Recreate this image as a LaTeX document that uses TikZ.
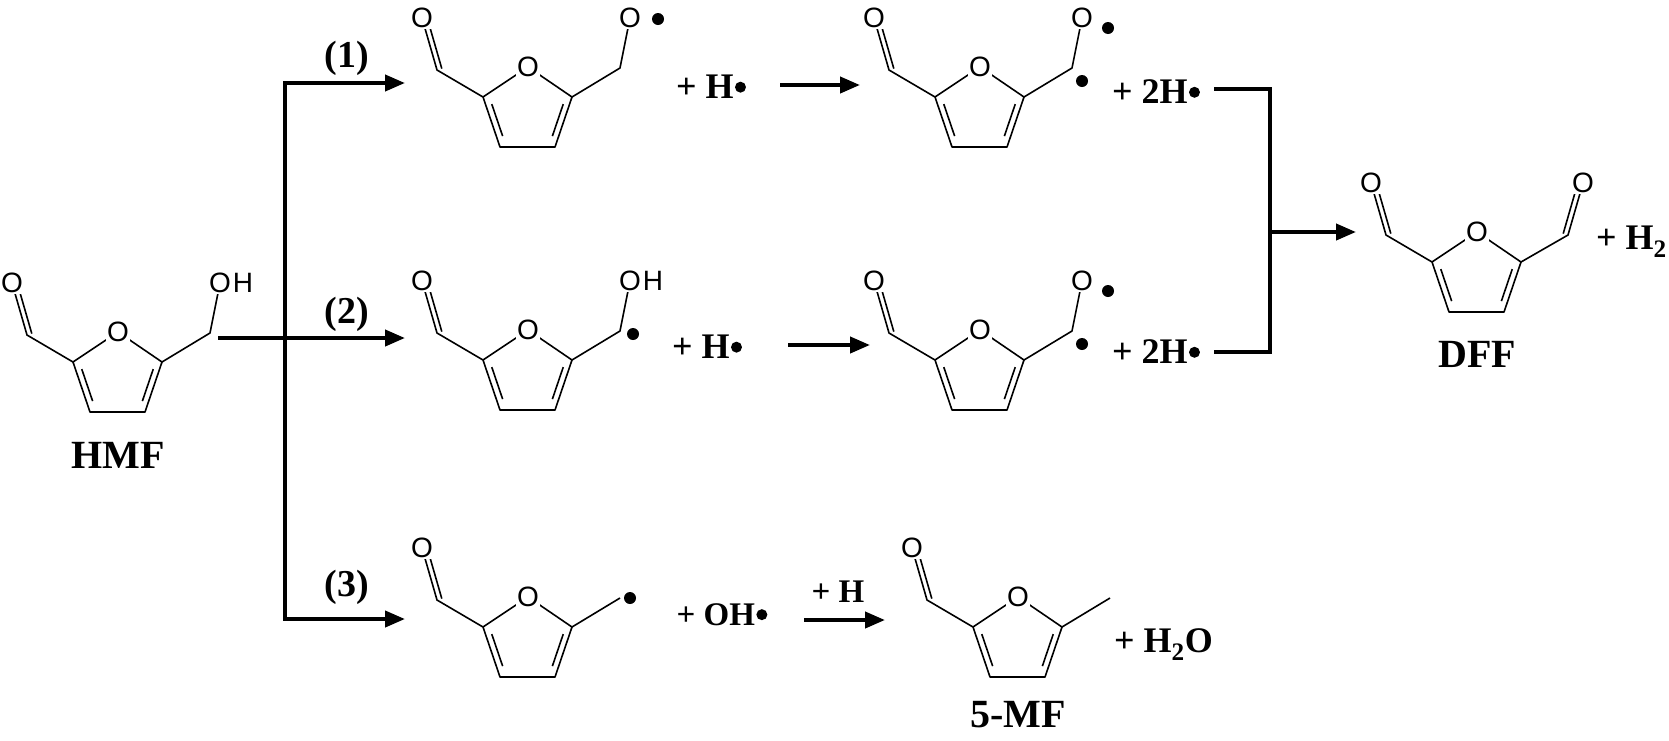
\documentclass[tikz,border=0pt]{standalone}
\usepackage{fontspec}
\setmainfont{Liberation Serif}
\newfontfamily\atomfont{Liberation Sans}
\usetikzlibrary{calc,arrows.meta}
\newcommand\rdot{\hspace{0.04em}\raisebox{0.17em}{\tikz\fill (0,0) circle (5.5pt);}}
\tikzset{
  bond/.style={line width=1.6pt},
  atom/.style={font=\atomfont\fontsize{28}{28}\selectfont,inner sep=1.5pt,fill=white},
  atomh/.style={font=\atomfont\fontsize{28}{28}\selectfont,inner sep=0pt,anchor=west},
  txt/.style={font=\bfseries\fontsize{36}{36}\selectfont,inner sep=0pt},
  smalltxt/.style={font=\bfseries\fontsize{33}{33}\selectfont,inner sep=0pt},
  lbl/.style={font=\bfseries\fontsize{38}{38}\selectfont,inner sep=0pt},
  molname/.style={font=\bfseries\fontsize{40}{40}\selectfont,inner sep=0pt},
  rarrow/.style={line width=4pt,-{Triangle[length=20pt,width=16pt]}},
  bracket/.style={line width=4pt},
  rad/.style={fill=black}
}
\newcommand\furancore[1]{%
  \coordinate (#1ald) at (-91,3);
  \coordinate (#1c2) at (-45,30);
  \coordinate (#1c5) at (44,30);
  \coordinate (#1c4) at (27,80);
  \coordinate (#1c3) at (-28,80);
  \coordinate (#1oc) at (0,0);
  \coordinate (#1oa) at (-106,-49);
  \draw[bond,line join=round] (#1c2)--(#1oc)--(#1c5)--(#1c4)--(#1c3)--cycle;
  \draw[bond,line join=round] (#1oa)--(#1ald)--(#1c2);
  \draw[bond] ($(#1ald)+(4.8,-1.4)$)--($(#1oa)+(4.8,-1.4)$);
  \draw[bond] ($(#1c2)!.18!(#1c3)+(5.7,-1.9)$)--($(#1c3)!.18!(#1c2)+(5.7,-1.9)$);
  \draw[bond] ($(#1c5)!.18!(#1c4)+(-5.7,-1.9)$)--($(#1c4)!.18!(#1c5)+(-5.7,-1.9)$);
  \node[atom] (#1O) at (#1oc) {O};
  \node[atom] (#1OA) at (#1oa) {O};
}
\begin{document}
\begin{tikzpicture}[x=1pt,y=-1pt]
\useasboundingbox (0,0) rectangle (1669,740);
% HMF
\begin{scope}[shift={(118,332)}]
  \furancore{hmf}
  \coordinate (hmfch) at (92,1);
  \draw[bond,line join=round] (hmfc5)--(hmfch)--(102,-49);
  \node[atom] (hmfOH) at (102,-49) {O};
  \node[atomh] (hmfH) at (hmfOH.east) {H};
\end{scope}
\node[molname] (hmflabel) at (118,455) {HMF};
% branching arrows
\coordinate (hmfout) at (218,338);
\coordinate (split) at (285,338);
\coordinate (top) at (285,83);
\coordinate (bot) at (285,619);
\coordinate (t1) at (405,83);
\coordinate (t2) at (405,338);
\coordinate (t3) at (405,619);
\draw[bracket] ($(top)+(0,-2)$)--($(bot)+(0,2)$);
\draw[rarrow] ($(top)+(-2,0)$)--(t1);
\draw[rarrow] (hmfout)--(t2);
\draw[rarrow] ($(bot)+(-2,0)$)--(t3);
\node[lbl] (l1) at (347,58) {(1)};
\node[lbl] (l2) at (347,314) {(2)};
\node[lbl] (l3) at (347,587) {(3)};
% Row 1
\begin{scope}[shift={(528,67)}]
  \furancore{ra}
  \draw[bond,line join=round] (rac5)--(92,1)--(102,-49);
  \node[atom] (raOp) at (102,-49) {O};
  \fill[rad] (130,-48) circle (6);
\end{scope}
\node[txt] (h1) at (711,87) {+ H\rdot};
\draw[rarrow] (780,85) coordinate (a1s) -- (860,85) coordinate (a1e);
\begin{scope}[shift={(980,67)}]
  \furancore{rb}
  \draw[bond,line join=round] (rbc5)--(92,1)--(102,-49);
  \node[atom] (rbOp) at (102,-49) {O};
  \fill[rad] (128,-39) circle (6);
  \fill[rad] (102,14) circle (6);
\end{scope}
\node[txt] (h2a) at (1156,92) {+ 2H\rdot};
% Row 2
\begin{scope}[shift={(528,330)}]
  \furancore{rc}
  \draw[bond,line join=round] (rcc5)--(92,1)--(102,-49);
  \node[atom] (rcOH) at (102,-49) {O};
  \node[atomh] (rcH) at (rcOH.east) {H};
  \fill[rad] (105,4) circle (6);
\end{scope}
\node[txt] (h3) at (707,347) {+ H\rdot};
\draw[rarrow] (788,345) coordinate (a2s) -- (870,345) coordinate (a2e);
\begin{scope}[shift={(980,330)}]
  \furancore{rd}
  \draw[bond,line join=round] (rdc5)--(92,1)--(102,-49);
  \node[atom] (rdOp) at (102,-49) {O};
  \fill[rad] (128,-39) circle (6);
  \fill[rad] (102,14) circle (6);
\end{scope}
\node[txt] (h2b) at (1156,352) {+ 2H\rdot};
% bracket to DFF
\coordinate (b1) at (1214,89);
\coordinate (b2) at (1270,89);
\coordinate (b3) at (1270,352);
\coordinate (b4) at (1214,352);
\coordinate (bm) at (1270,232);
\coordinate (be) at (1356,232);
\draw[bracket] (b1)--(b2)--(b3)--(b4);
\draw[rarrow] (bm)--(be);
% DFF
\begin{scope}[shift={(1477,232)}]
  \furancore{df}
  \coordinate (dfald2) at (91,3);
  \coordinate (dfoa2) at (106,-49);
  \draw[bond,line join=round] (dfc5)--(dfald2)--(dfoa2);
  \draw[bond] ($(dfald2)+(-4.8,-1.4)$)--($(dfoa2)+(-4.8,-1.4)$);
  \node[atom] (dfOB) at (dfoa2) {O};
\end{scope}
\node[txt,anchor=west] (h2) at (1596,242) {+ H\textsubscript{2}};
\node[molname] (dfflabel) at (1477,354) {DFF};
% Row 3
\begin{scope}[shift={(528,597)}]
  \furancore{re}
  \draw[bond] (rec5)--(92,1);
  \fill[rad] (102,1) circle (6);
\end{scope}
\node[smalltxt] (oh) at (722,615) {+ OH\rdot};
\draw[rarrow] (804,620) coordinate (a3s) -- (885,620) coordinate (a3e);
\node[smalltxt] (plh) at (838,592) {+ H};
\begin{scope}[shift={(1018,597)}]
  \furancore{rf}
  \draw[bond] (rfc5)--(92,1);
\end{scope}
\node[txt,anchor=west] (h2o) at (1114,645) {+ H\textsubscript{2}O};
\node[molname] (mflabel) at (1018,715) {5-MF};
\end{tikzpicture}
\end{document}
